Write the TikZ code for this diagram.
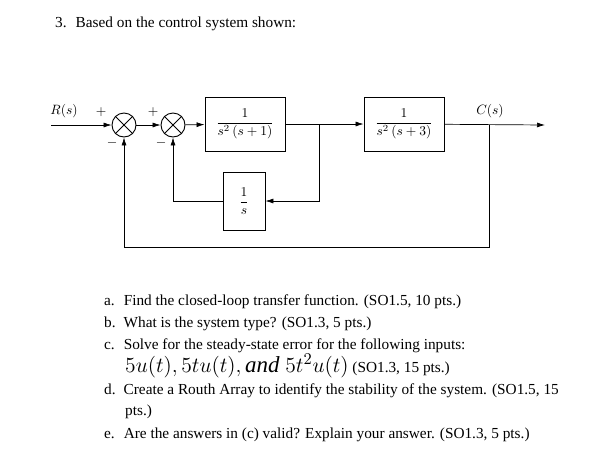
\documentclass[tikz,border=0pt]{standalone}
\usepackage{amsmath}
\usepackage{fontspec}
\setmainfont{Liberation Serif}
\usetikzlibrary{arrows.meta}
\newcommand{\bm}[1]{\scalebox{1.35}{#1}}
\begin{document}
\begin{tikzpicture}[x=1pt,y=-1pt,
  blk/.style={draw,line width=0.9pt,inner sep=0pt},
  sum/.style={draw,circle,line width=0.9pt,minimum size=24pt,inner sep=0pt},
  ln/.style={line width=0.7pt},
  ar/.style={ln,-{Latex[length=8pt,width=5pt]}},
  lab/.style={},
  txt/.style={anchor=base west,font=\fontsize{15.3}{17}\selectfont,inner sep=0pt}]
\useasboundingbox (0,0) rectangle (607,453);
\node[txt] (title) at (55,27) {3.\hspace{9pt}Based on the control system shown:};
\node[sum] (s1) at (124,125) {};
\node[sum] (s2) at (173,125) {};
\foreach \n in {s1,s2}{\draw[line width=0.9pt] (\n.north west)--(\n.south east) (\n.north east)--(\n.south west);}
\node[blk,minimum width=80pt,minimum height=54pt] (g1) at (245,124) {\bm{$\dfrac{1}{s^2\,(s+1)}$}};
\node[blk,minimum width=80pt,minimum height=54pt] (g2) at (404,124) {\bm{$\dfrac{1}{s^2\,(s+3)}$}};
\node[blk,minimum width=42pt,minimum height=58pt] (h) at (244,201) {\bm{$\dfrac{1}{s}$}};
\coordinate (in) at (51,125);
\coordinate (br1) at (319,125);
\coordinate (br2) at (489,125);
\coordinate (out) at (545,125);
\draw[ar] (in) -- (s1);
\draw[ar] (s1) -- (s2);
\draw[ar] (s2) -- (g1);
\draw[ar] (g1) -- (g2);
\draw[ar] (g2) -- (out);
\draw[ar] (br1) |- (h.east);
\draw[ar] (h.west) -| (s2.south);
\draw[ar] (br2) |- (124,247) -- (s1.south);
\node[lab] (R) at (64,111) {\bm{$R(s)$}};
\node[lab] (C) at (490,111) {\bm{$C(s)$}};
\node[lab] (p1) at (101,112) {\bm{$+$}};
\node[lab] (p2) at (153,112) {\bm{$+$}};
\node[lab] (m1) at (112,143) {\bm{$-$}};
\node[lab] (m2) at (161,143) {\bm{$-$}};
\node[txt] (a) at (104,305) {a.\hspace{9pt}Find the closed-loop transfer function. (SO1.5, 10 pts.)};
\node[txt] (b) at (104,327) {b.\hspace{8pt}What is the system type? (SO1.3, 5 pts.)};
\node[txt] (c) at (104,349) {c.\hspace{9pt}Solve for the steady-state error for the following inputs:};
\node[txt] (c2) at (125,372) {\scalebox{1.5}{$5u(t), 5tu(t), \mathit{and}\ 5t^2u(t)$} (SO1.3, 15 pts.)};
\node[txt] (d) at (104,394) {d.\hspace{8pt}Create a Routh Array to identify the stability of the system. (SO1.5, 15};
\node[txt] (d2) at (125,415) {pts.)};
\node[txt] (e) at (104,438) {e.\hspace{9pt}Are the answers in (c) valid? Explain your answer. (SO1.3, 5 pts.)};
\end{tikzpicture}
\end{document}
